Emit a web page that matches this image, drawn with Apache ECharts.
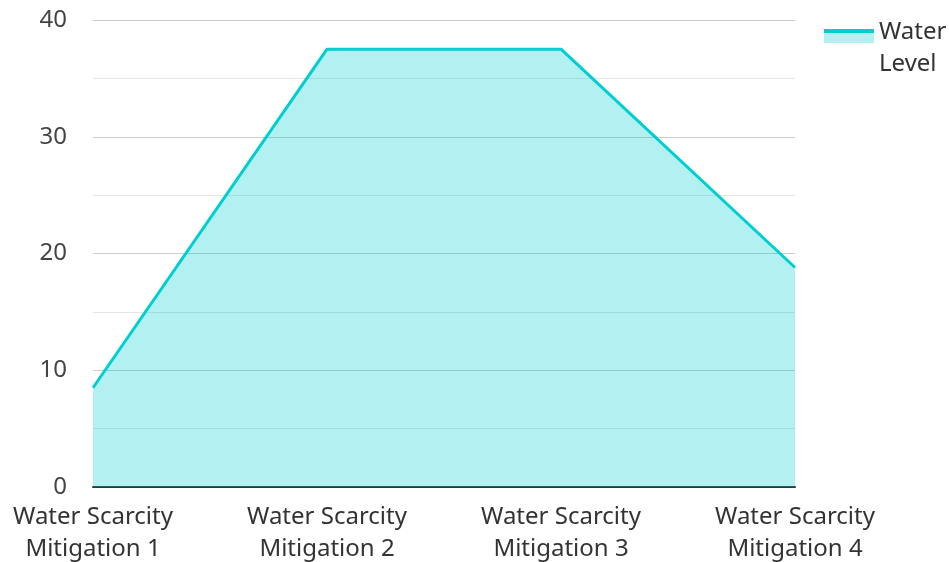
<!DOCTYPE html>
<html>
<head>
    <meta charset="utf-8">
    <script src="https://cdn.jsdelivr.net/npm/echarts@6/dist/echarts.min.js"></script>
</head>
<body style="margin:0">
    <div id="main" style="width: 949px;height:562px;"></div>
    <script type="text/javascript">
        // data
        var categories = ['Water Scarcity Mitigation 1', 'Water Scarcity Mitigation 2',
            'Water Scarcity Mitigation 3', 'Water Scarcity Mitigation 4'];
        var waterLevel = [8.5, 37.5, 37.5, 18.8];
        var seriesName = 'Water Level';

        var chart = echarts.init(document.getElementById('main'));

        // legend swatch: thick line on top of the pale area, rest left empty
        // so the two-line label sits lower like in the original
        var swatch = new echarts.graphic.LinearGradient(0, 0, 0, 1, [
            { offset: 0, color: '#00CED1' },
            { offset: 0.105, color: '#00CED1' },
            { offset: 0.105, color: '#b3f0f1' },
            { offset: 0.37, color: '#b3f0f1' },
            { offset: 0.37, color: 'rgba(255,255,255,0)' },
            { offset: 1, color: 'rgba(255,255,255,0)' }
        ]);

        chart.setOption({
            textStyle: { fontFamily: 'Noto Sans' },
            grid: { left: 93, right: 154, top: 20, bottom: 75, outerBoundsMode: 'none' },
            legend: {
                orient: 'vertical',
                left: 819,
                top: 11,
                icon: 'rect',
                itemWidth: 50,
                itemHeight: 38,
                itemGap: 10,
                itemStyle: { color: swatch },
                formatter: function (name) {
                    return name.replace(' ', '\n');
                },
                textStyle: { fontSize: 24, color: '#333', lineHeight: 32 },
                data: [seriesName]
            },
            xAxis: {
                type: 'category',
                data: categories,
                boundaryGap: false,
                axisLine: { lineStyle: { color: '#333', width: 2 } },
                axisTick: { show: false },
                axisLabel: {
                    fontSize: 24,
                    color: '#333',
                    lineHeight: 32,
                    margin: 14,
                    interval: 0,
                    formatter: function (v) {
                        return v.replace(' Mitigation', '\nMitigation');
                    }
                }
            },
            yAxis: {
                type: 'value',
                min: 0,
                max: 40,
                interval: 10,
                axisLine: { show: false },
                axisTick: { show: false },
                axisLabel: { fontSize: 24, color: '#444', margin: 26 },
                splitLine: { lineStyle: { color: '#ccc', width: 1 } },
                minorTick: { show: false, splitNumber: 2 },
                minorSplitLine: { show: true, lineStyle: { color: '#e6e6e6', width: 1 } }
            },
            series: [
                {
                    name: seriesName,
                    type: 'line',
                    data: waterLevel,
                    showSymbol: false,
                    symbol: 'none',
                    lineStyle: { color: '#00CED1', width: 3 },
                    itemStyle: { color: '#00CED1' },
                    areaStyle: { color: '#00CED1', opacity: 0.3 }
                }
            ]
        });
    </script>
</body>
</html>
